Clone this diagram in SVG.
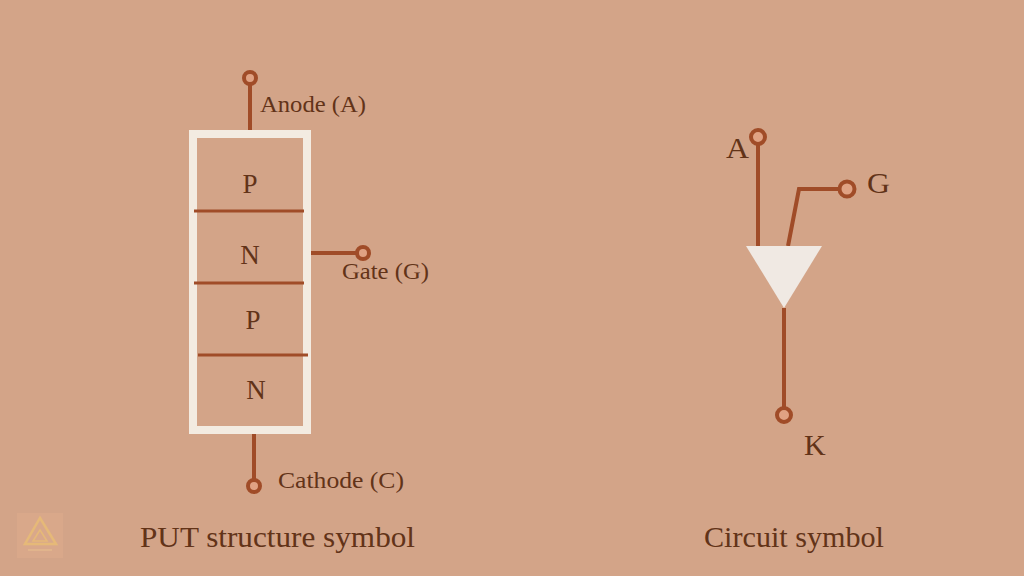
<svg xmlns="http://www.w3.org/2000/svg" width="1024" height="576" viewBox="0 0 1024 576">
<style>
.w{fill:none;stroke:#a04c28;stroke-width:4}
.d{fill:none;stroke:#a04c28;stroke-width:3}
.t{fill:#e0a283;stroke:#a04c28;stroke-width:4}
text{font-family:"Liberation Serif",serif;fill:#623318}
.s{font-size:24px}
.l{font-size:30px}
.m{font-size:27px}
</style>
<rect width="1024" height="576" fill="#d3a488"/>
<g id="logo" opacity="0.7">
<rect x="17" y="513" width="46" height="45" fill="#dcab8c"/>
<path d="M40 518L56 544H25Z" fill="none" stroke="#efc272" stroke-width="2.500"/>
<path d="M40 530L47 541H33Z" fill="none" stroke="#efc272" stroke-width="1.500"/>
<path d="M28 550H52" fill="none" stroke="#e8bb8e" stroke-width="2"/>
</g>
<g id="connectors">
<path class="w" d="M250 84V130"/>
<path class="w" d="M311 253H357"/>
<path class="w" d="M254 434V480"/>
<path class="w" d="M758 143V246"/>
<path class="w" d="M841 189H799L788 246"/>
<path class="w" d="M784 308V410"/>
</g>
<g id="structure">
<rect x="193" y="134" width="114" height="296" fill="none" stroke="#f3ebe1" stroke-width="8"/>
<path class="d" d="M194 211H304M194 283H304M198 355H308"/>
<text class="m" x="250" y="193" text-anchor="middle">P</text>
<text class="m" x="250" y="264" text-anchor="middle">N</text>
<text class="m" x="253" y="329" text-anchor="middle">P</text>
<text class="m" x="256" y="399" text-anchor="middle">N</text>
</g>
<g id="anode"><circle class="t" cx="250" cy="78" r="6"/><text class="s" x="260" y="112" textLength="106" lengthAdjust="spacingAndGlyphs">Anode (A)</text></g>
<g id="gate"><circle class="t" cx="363" cy="253" r="6"/><text class="s" x="342" y="279" textLength="87" lengthAdjust="spacingAndGlyphs">Gate (G)</text></g>
<g id="cathode"><circle class="t" cx="254" cy="486" r="6"/><text class="s" x="278" y="488" textLength="126" lengthAdjust="spacingAndGlyphs">Cathode (C)</text></g>
<g id="caption-structure"><text class="l" x="140" y="547" textLength="275" lengthAdjust="spacingAndGlyphs">PUT structure symbol</text></g>
<g id="thyristor"><path d="M746 246H822L784 308Z" fill="#f0e9e3"/></g>
<g id="a"><circle class="t" cx="758" cy="137" r="7"/><text class="l" x="726" y="158" textLength="23" lengthAdjust="spacingAndGlyphs">A</text></g>
<g id="g"><circle class="t" cx="847" cy="189" r="7.500"/><text class="l" x="867" y="193" textLength="23" lengthAdjust="spacingAndGlyphs">G</text></g>
<g id="k"><circle class="t" cx="784" cy="415" r="7"/><text class="l" x="804" y="455">K</text></g>
<g id="caption-circuit"><text class="l" x="704" y="547" textLength="180" lengthAdjust="spacingAndGlyphs">Circuit symbol</text></g>
</svg>
